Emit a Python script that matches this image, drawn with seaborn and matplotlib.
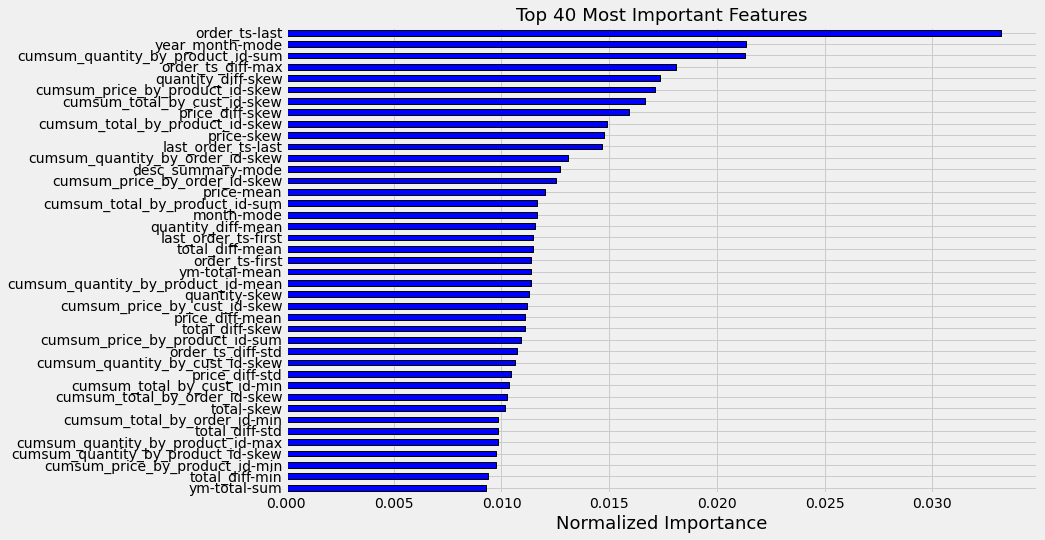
import pandas as pd
import seaborn as sns
import matplotlib.pyplot as plt

# Feature names, most important first
features = [
    "order_ts-last", "year_month-mode", "cumsum_quantity_by_product_id-sum",
    "order_ts_diff-max", "quantity_diff-skew", "cumsum_price_by_product_id-skew",
    "cumsum_total_by_cust_id-skew", "price_diff-skew", "cumsum_total_by_product_id-skew",
    "price-skew", "last_order_ts-last", "cumsum_quantity_by_order_id-skew",
    "desc_summary-mode", "cumsum_price_by_order_id-skew", "price-mean",
    "cumsum_total_by_product_id-sum", "month-mode", "quantity_diff-mean",
    "last_order_ts-first", "total_diff-mean", "order_ts-first", "ym-total-mean",
    "cumsum_quantity_by_product_id-mean", "quantity-skew", "cumsum_price_by_cust_id-skew",
    "price_diff-mean", "total_diff-skew", "cumsum_price_by_product_id-sum",
    "order_ts_diff-std", "cumsum_quantity_by_cust_id-skew", "price_diff-std",
    "cumsum_total_by_cust_id-min", "cumsum_total_by_order_id-skew", "total-skew",
    "cumsum_total_by_order_id-min", "total_diff-std", "cumsum_quantity_by_product_id-max",
    "cumsum_quantity_by_product_id-skew", "cumsum_price_by_product_id-min",
    "total_diff-min", "ym-total-sum",
]

# Normalized importance values
importance = [
    0.03318, 0.02137, 0.02128, 0.01809, 0.01735, 0.01711, 0.01665, 0.01591,
    0.01489, 0.01475, 0.01466, 0.01309, 0.01272, 0.01253, 0.01202, 0.01165,
    0.01165, 0.01156, 0.01147, 0.01147, 0.01137, 0.01137, 0.01137, 0.01128,
    0.01119, 0.01110, 0.01110, 0.01091, 0.01073, 0.01063, 0.01045, 0.01036,
    0.01026, 0.01017, 0.00984, 0.00984, 0.00984, 0.00975, 0.00975, 0.00938,
    0.00929,
]

df = pd.DataFrame({"feature": features, "importance_normalized": importance})

plt.style.use("fivethirtyeight")

fig = plt.figure(figsize=(1045 / 72, 540 / 72), dpi=72)
ax = fig.add_axes([286 / 1045, 1 - 493.4 / 540, (1036.7 - 286) / 1045, (493.4 - 27) / 540])

sns.barplot(data=df, x="importance_normalized", y="feature", orient="h",
            color="blue", saturation=1, width=0.5, edgecolor="k", linewidth=1,
            ax=ax)

# seaborn turns off the grid on the categorical axis; bring it back
ax.yaxis.grid(True)
ax.set_xlim(0, max(importance) * 1.05)
ax.set_ylabel("")
ax.set_xlabel("Normalized Importance", fontsize=18)
ax.set_title("Top 40 Most Important Features", fontsize=18.4)
ax.tick_params(labelsize=14)

fig.savefig("out.png", dpi=72, facecolor=fig.get_facecolor())
